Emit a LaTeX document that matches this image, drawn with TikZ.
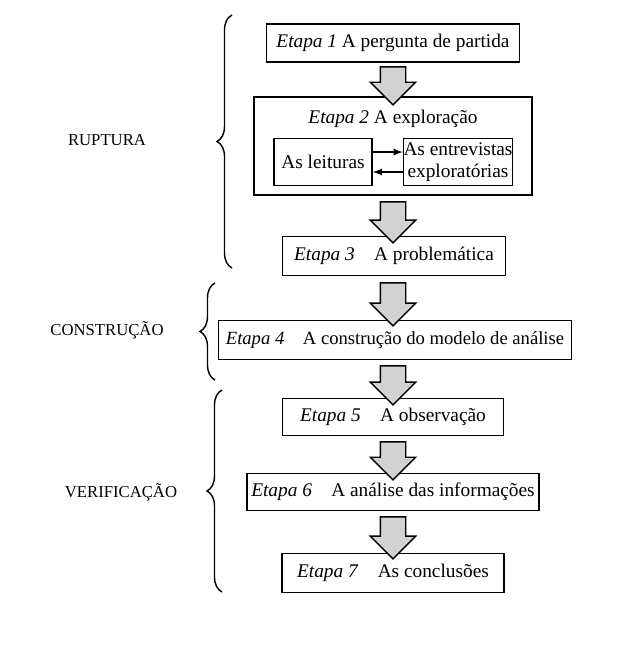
\documentclass[tikz,border=0pt]{standalone}
\usepackage{fontspec}
\setmainfont{Liberation Serif}
\usetikzlibrary{shapes.arrows,decorations.pathreplacing}
\begin{document}
\begin{tikzpicture}[x=0.02cm,y=-0.02cm,
    etapa/.style={draw, thick, inner sep=0pt, font=\fontsize{11}{12.5}\selectfont},
    seta/.style={single arrow, draw, thick, fill=gray!35, shape border rotate=270,
        inner sep=0.24cm, single arrow head extend=0.2cm},
    chave/.style={decorate, thick, decoration={brace, amplitude=0.3cm}},
    fase/.style={font=\fontsize{9.5}{11}\selectfont}]
        \useasboundingbox (0,0) rectangle (622,656);
        % Etapas
        \node[etapa, minimum width=5.06cm, minimum height=0.76cm] (E1) at (393,43) {\textit{Etapa 1} A pergunta de partida};
        \node[etapa, minimum width=5.56cm, minimum height=1.96cm] (E2) at (393,146) {};
        \node[font=\fontsize{11}{12.5}\selectfont] (T2) at (393,119) {\textit{Etapa 2} A exploração};
        \node[etapa, minimum width=1.96cm, minimum height=0.94cm] (L) at (323,162) {As leituras};
        \node[etapa, minimum width=2.14cm, minimum height=0.94cm, align=center] (EX) at (458,162) {As entrevistas\\exploratórias};
        \node[etapa, minimum width=4.46cm, minimum height=0.78cm] (E3) at (394,256) {\textit{Etapa 3}\quad A problemática};
        \node[etapa, minimum width=7.06cm, minimum height=0.78cm, font=\fontsize{10.6}{12}\selectfont] (E4) at (395,340) {\textit{Etapa 4}\quad A construção do modelo de análise};
        \node[etapa, minimum width=4.42cm, minimum height=0.74cm] (E5) at (393,417) {\textit{Etapa 5}\quad A observação};
        \node[etapa, minimum width=5.84cm, minimum height=0.74cm] (E6) at (393,492) {\textit{Etapa 6}\quad A análise das informações};
        \node[etapa, minimum width=4.44cm, minimum height=0.78cm] (E7) at (393,573) {\textit{Etapa 7}\quad As conclusões};
        % Setas entre etapas
        \node[seta, minimum height=0.68cm] (S1) at (393,79.5) {};
        \node[seta, minimum height=0.82cm] (S2) at (393,216) {};
        \node[seta, minimum height=0.86cm] (S3) at (393,298) {};
        \node[seta, minimum height=0.78cm] (S4) at (393,379) {};
        \node[seta, minimum height=0.72cm] (S5) at (393,454.5) {};
        \node[seta, minimum height=0.84cm] (S6) at (393,531.5) {};
        % Leituras e entrevistas
        \draw[->, >=latex, thick] ([yshift=0.2cm]L.east) -- ([yshift=0.2cm]EX.west);
        \draw[->, >=latex, thick] ([yshift=-0.2cm]EX.west) -- ([yshift=-0.2cm]L.east);
        % Chaves
        \coordinate (R1) at (232,268);
        \coordinate (R2) at (232,15);
        \coordinate (C1) at (215,380);
        \coordinate (C2) at (215,283);
        \coordinate (V1) at (222,592);
        \coordinate (V2) at (222,390);
        \draw[chave] (R1) -- (R2);
        \draw[chave] (C1) -- (C2);
        \draw[chave] (V1) -- (V2);
        \node[fase] (RU) at (107,140) {RUPTURA};
        \node[fase] (CO) at (107,330) {CONSTRUÇÃO};
        \node[fase] (VE) at (121,492) {VERIFICAÇÃO};
\end{tikzpicture}
\end{document}
